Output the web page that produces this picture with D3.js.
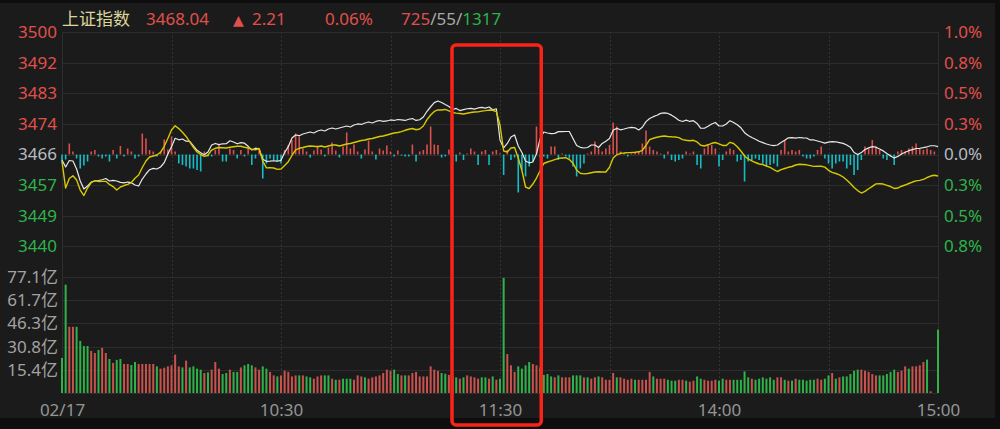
<!DOCTYPE html>
<html>
<head>
<meta charset="utf-8">
<script src="https://cdn.jsdelivr.net/npm/d3@7"></script>
<style>
html, body { margin: 0; padding: 0; background: #0e0e0e; }
svg { display: block; font-family: "Noto Sans", "Noto Sans CJK SC", sans-serif; }
</style>
</head>
<body>
<svg id="chart" width="1000" height="429"></svg>
<script>
// header
let indexName = '上证指数';
let lastPrice = 3468.04;
let change = 2.21;
let changePct = 0.06;
let upDownCount = [725, 55, 1317];

let prevClose = 3465.83;

// axis ticks
let pctTicks = [1.0, 0.75, 0.5, 0.25, 0, -0.25, -0.5, -0.75];
let priceLabels = ['3500', '3492', '3483', '3474', '3466', '3457', '3449', '3440'];
let pctLabels = ['1.0%', '0.8%', '0.5%', '0.3%', '0.0%', '0.3%', '0.5%', '0.8%'];
let volTicks = [77.1, 61.7, 46.3, 30.8, 15.4];
let volLabels = ['77.1亿', '61.7亿', '46.3亿', '30.8亿', '15.4亿'];
let timeTickIdx = [0, 60, 120, 180, 240];
let timeTickLabels = ['02/17', '10:30', '11:30', '14:00', '15:00'];
let timeGridIdx = [30, 60, 90, 120, 150, 180, 210];

// highlighted minutes (red box)
let highlightRange = [106.85, 131.3];

// minute price (white)
let price = [
3464.27, 3462.29, 3464.13, 3463.99, 3461.72, 3458.33, 3456.06, 3456.91, 3458.04, 3458.33,
3458.47, 3458.69, 3459.03, 3458.33, 3458.52, 3458.33, 3457.96, 3457.82, 3458.04, 3457.87,
3457.19, 3456.91, 3458.89, 3460.31, 3461.53, 3461.92, 3461.72, 3462.29, 3463.51, 3465.97,
3468.04, 3470.42, 3469.99, 3470.22, 3469.60, 3469.57, 3468.29, 3467.02, 3466.31, 3465.77,
3466.54, 3468.52, 3468.95, 3468.61, 3468.86, 3468.89, 3469.71, 3469.37, 3468.86, 3469.20,
3469.03, 3468.15, 3467.10, 3467.61, 3467.42, 3464.47, 3463.90, 3463.93, 3464.07, 3463.93,
3464.19, 3466.40, 3468.04, 3470.50, 3471.35, 3471.15, 3471.64, 3471.92, 3472.20, 3471.92,
3472.49, 3472.77, 3472.49, 3473.05, 3473.33, 3473.05, 3473.33, 3473.62, 3473.90, 3473.62,
3474.18, 3474.47, 3474.33, 3474.75, 3475.03, 3474.75, 3475.18, 3475.46, 3475.18, 3475.32,
3475.60, 3475.46, 3475.74, 3475.60, 3475.46, 3475.80, 3476.00, 3475.46, 3475.66, 3476.45,
3478.06, 3479.34, 3480.50, 3480.98, 3480.53, 3479.96, 3479.42, 3478.57, 3478.86, 3478.26,
3478.52, 3478.77, 3478.86, 3478.66, 3479.00, 3479.14, 3478.94, 3479.28, 3478.49, 3478.77,
3469.94, 3467.67, 3468.95, 3470.79, 3471.35, 3468.24, 3466.40, 3463.99, 3463.48, 3463.71,
3466.03, 3470.36, 3472.20, 3471.92, 3471.72, 3471.81, 3472.29, 3472.29, 3472.34, 3472.34,
3470.36, 3468.38, 3467.87, 3467.67, 3467.81, 3468.52, 3468.52, 3467.81, 3468.95, 3469.57,
3470.33, 3472.71, 3473.22, 3472.82, 3473.05, 3473.33, 3473.48, 3473.39, 3472.77, 3473.53,
3475.12, 3476.03, 3476.53, 3476.93, 3477.47, 3477.61, 3477.44, 3476.96, 3476.31, 3475.52,
3475.18, 3475.54, 3475.18, 3475.40, 3474.61, 3473.25, 3473.25, 3473.82, 3474.47, 3474.89,
3473.90, 3473.90, 3474.47, 3475.40, 3474.89, 3474.24, 3473.39, 3472.00, 3471.21, 3470.62,
3470.16, 3469.57, 3469.20, 3468.80, 3468.52, 3468.32, 3468.52, 3469.23, 3469.85, 3470.56,
3470.59, 3470.45, 3470.64, 3470.53, 3470.50, 3469.94, 3469.94, 3469.65, 3469.37, 3469.03,
3469.31, 3469.45, 3469.43, 3469.20, 3468.97, 3468.52, 3467.90, 3466.40, 3465.80, 3466.37,
3467.25, 3467.70, 3468.04, 3467.90, 3467.39, 3466.85, 3466.11, 3465.41, 3464.84, 3465.29,
3465.97, 3466.45, 3466.91, 3467.22, 3467.53, 3467.59, 3467.78, 3468.01, 3468.30, 3468.30,
3468.04
];

// unweighted index (yellow)
let leadLine = [
3463.79, 3456.34, 3459.03, 3459.83, 3458.61, 3455.78, 3454.22, 3456.34, 3457.87, 3458.41,
3458.21, 3458.24, 3458.24, 3457.36, 3456.77, 3455.78, 3456.63, 3457.05, 3457.39, 3457.90,
3459.09, 3460.02, 3462.15, 3463.99, 3465.12, 3465.41, 3465.69, 3466.45, 3468.15, 3470.36,
3472.77, 3473.96, 3473.16, 3472.12, 3470.93, 3469.37, 3467.87, 3466.54, 3465.83, 3465.32,
3465.63, 3467.10, 3467.59, 3467.81, 3467.73, 3467.67, 3467.87, 3468.04, 3468.18, 3468.15,
3467.87, 3467.67, 3467.30, 3467.16, 3467.53, 3463.99, 3462.06, 3462.12, 3462.01, 3461.61,
3461.72, 3462.71, 3463.79, 3465.55, 3467.16, 3467.59, 3467.81, 3468.10, 3468.24, 3468.15,
3468.04, 3468.24, 3467.95, 3468.24, 3468.52, 3468.52, 3468.24, 3468.52, 3468.80, 3468.95,
3469.23, 3469.51, 3469.79, 3469.94, 3470.22, 3470.36, 3470.64, 3470.93, 3471.07, 3471.35,
3471.64, 3471.92, 3472.06, 3472.29, 3472.68, 3472.97, 3473.19, 3472.83, 3473.05, 3473.90,
3475.71, 3477.02, 3478.01, 3478.43, 3478.43, 3478.57, 3478.15, 3477.72, 3477.53, 3477.44,
3477.30, 3477.50, 3477.70, 3477.87, 3477.89, 3478.09, 3478.23, 3478.40, 3478.35, 3477.95,
3474.18, 3466.82, 3466.54, 3467.67, 3467.81, 3464.84, 3461.30, 3456.63, 3456.20, 3457.48,
3459.17, 3461.30, 3463.28, 3463.71, 3464.05, 3464.39, 3464.75, 3464.84, 3464.92, 3464.41,
3463.34, 3461.44, 3460.51, 3460.36, 3460.45, 3460.65, 3460.87, 3460.96, 3460.87, 3460.87,
3462.21, 3464.84, 3465.75, 3466.17, 3466.25, 3466.37, 3466.40, 3466.48, 3466.59, 3467.02,
3468.38, 3470.02, 3470.42, 3470.70, 3470.93, 3471.07, 3470.93, 3470.84, 3470.79, 3470.62,
3470.05, 3469.85, 3469.74, 3469.85, 3469.37, 3468.46, 3468.24, 3468.58, 3469.00, 3469.23,
3468.86, 3468.38, 3468.38, 3469.28, 3468.95, 3468.04, 3466.82, 3465.41, 3464.56, 3464.05,
3463.56, 3463.14, 3463.00, 3462.57, 3462.21, 3461.58, 3461.02, 3461.53, 3461.87, 3462.21,
3462.43, 3462.86, 3463.08, 3463.00, 3462.91, 3462.69, 3462.46, 3462.49, 3462.49, 3462.26,
3461.36, 3460.76, 3460.45, 3460.08, 3459.46, 3458.61, 3457.62, 3456.48, 3455.63, 3454.93,
3455.41, 3456.14, 3456.80, 3457.53, 3457.56, 3457.47, 3457.11, 3456.77, 3456.23, 3456.34,
3456.85, 3457.19, 3457.62, 3458.04, 3458.38, 3458.52, 3458.81, 3459.32, 3459.74, 3459.97,
3459.74
];

// red / cyan strength bars around the previous close line
let flow = [
-8, -5, 11, 3, -4, -14, -11, -7, 3, 4.5,
-2, -4, -2, -7, 4.5, -4, 8.5, -2, 6, 3,
-4, -2, 21, 16, 4.5, 3, -2, 3, 15, 5,
18, 3, -9, -10.5, -12, -14, -14, -15.5, -17, 3,
-2, -2, 4.5, 9.5, -7, -7, 6, 4.5, -4, 4.5,
-2, 6, -10.5, -4, 4.5, -24, -9, -4, -5.5, -7,
-9, 4.5, 9.5, 14.5, 21, 18, 6, 3, -3, 4,
9, 5, -2, 7, 12, 4, -3, 8, 22, 6,
10, 3, -4, 5, 14, 3, -5, 6, 4, 9,
3, -2, 4, -1, -2, -2, 10, -7, 3, 4.5,
10, 28, 10, 9.5, -3, -2, 5, -2, -7, 2,
-5.5, 1, 6, 3, -10.5, 3, 4.5, -10.5, 3, 4.5,
1, -20.5, 4.5, -5.5, -3, -38, -15.5, -22, -12, -7,
28, -3, -2, -4, 8, 8, -5.5, 1, -2, -4,
-12, -22, -14, -9, 1, 3, 13, 6, 3, 6,
9.5, 32, 28, 3, 1.5, -2, 1, 2, 3, 11,
24, 8, 4.5, 3, 1, -4, 3, -5.5, -7, -5.5,
-4, 3, 1, 3, -10.5, -14, 6, 9.5, 9.5, 6,
-12, -5.5, 3, 6, 4.5, -7, -5.5, -27, -7, -5.5,
-4, -5.5, -9, -12, -10.5, -9, -12, 4.5, 14.5, 3,
4.5, 3, 4.5, -2, -4, -4, -2, 4.5, 8, -4,
-9, -14, -9, -7, -7, -14, -10.5, -20.5, -15.5, -5.5,
8, 6, 14.5, 8, 4.5, -4, -5.5, -2, -10.5, 3,
4.5, 3, 6, 8, 11, 6, 4.5, 6, 4.5, 3,
0
];

// volume per minute, 亿
let volume = [
23.3, 72, 44, 44, 44, 34.6, 31.2, 31.2, 28, 26.6,
28.6, 30, 26.6, 22.6, 20, 22, 22.6, 19.3, 19.3, 18.6,
20.6, 19.3, 19.3, 19.3, 19.3, 19.3, 17.7, 16.2, 16.8, 17.7,
18.4, 25.5, 17.7, 17, 21.5, 17, 17.7, 16.2, 15.5, 13.3,
13.7, 15.5, 20.6, 16.2, 12.6, 13.3, 15.5, 14, 14, 17,
18.4, 19.3, 18.4, 17, 15.5, 17.7, 16.2, 14, 11.7, 11,
11.7, 14.8, 14, 11, 11.7, 11.7, 11.7, 11, 10.4, 9.5,
11, 11.7, 11.7, 11.7, 9.5, 8.8, 8.8, 9.5, 9.5, 9.5,
8.8, 11.7, 11, 10.4, 9.5, 10.4, 11, 11.7, 13.3, 15.5,
14.8, 15.5, 12.6, 11.7, 11.7, 11.7, 13.3, 14, 11, 11,
11, 17.7, 15.5, 14.8, 13.3, 12.8, 12, 11, 10.4, 9.5,
10.4, 11.7, 11, 10.4, 9.5, 10.4, 10.4, 9.5, 11, 8.8,
9.5, 76.5, 25.9, 18.4, 14, 17.7, 16.2, 18.4, 20.6, 19.3,
18.4, 17, 12, 12.6, 11, 10.4, 11.7, 10.4, 10.4, 10.4,
11.7, 11.7, 11.7, 10.4, 10.4, 9.5, 10.4, 11, 10.4, 8.8,
8.8, 13.3, 10.4, 10.4, 9.5, 8.8, 9.5, 8.8, 8.8, 8.8,
8.8, 14, 11, 9.5, 9.5, 9.5, 8.8, 8.2, 8.2, 8.8,
8.8, 8.2, 7.5, 8.2, 11, 9.5, 8.8, 8.2, 8.2, 8.8,
8.2, 9.5, 8.8, 8.8, 8.8, 8.8, 8.8, 14.4, 10.4, 9.5,
8.8, 9.5, 10.4, 9.5, 10.4, 8.8, 10.4, 10.4, 8.8, 8.2,
8.2, 9.5, 8.8, 8.8, 8.2, 8.8, 8.8, 9.5, 8.8, 9.5,
11.7, 13.3, 9.5, 10.4, 11, 11, 12.6, 14.8, 15.5, 15.5,
14.8, 14, 12.6, 11.7, 11.7, 11.7, 12.6, 14, 15.5, 14,
14.8, 17.7, 16.2, 17.7, 17.7, 18.4, 20.6, 22.2, 1.1, 0,
42.1
];

// R = up minute, G = down minute
let volumeDir = (
'GGRRGGGGRR' + 'GRRGRGGRRG' + 'GRRRRRGRRR' + 'RRRGRGGGGR' + 'GRRRGGRGGR' + 'GGGRRGGRRG' + 'R' +
'RRRRGRGGRR' + 'RGGRGRGGGR' + 'RRGRRRRRRR' + 'GGRGRRRRRR' + 'RRRGGRGGRG' + 'RRRRGGRGR' +
'GGRRRGGGGRR' +
'GGGGRGRRRG' + 'GGRGRRGRRR' + 'RGRRRRGRRR' + 'RGRRRGGGRR' + 'GRRGGRRRRG' +
'GRRGGGGGRG' + 'GGGGGRRGRG' + 'RGGGGGRRGG' + 'RGRGGGGGRR' + 'RRRGGGGGRR' + 'RGRRRRGRGG'
).split('');

let colorRed = '#e0504b';
let colorGreen = '#2db34b';
let colorGray = '#b6bcc2';

let svg = d3.select('#chart');

let left = 62;
let right = 938;
let priceTop = 32;
let priceBottom = 277;
let volBottom = 393;

svg.append('rect')
	.attr('x', 0).attr('y', 3)
	.attr('width', 995).attr('height', 415)
	.attr('fill', '#1b1b1b');

let x = d3.scaleLinear()
	.domain([0, 240])
	.range([left, right]);

let yPrice = d3.scaleLinear()
	.domain([prevClose * 0.99, prevClose * 1.01])
	.range([priceBottom, priceTop]);

let yVol = d3.scaleLinear()
	.domain([0, 77.1])
	.range([volBottom, priceBottom]);

let base = yPrice(prevClose);
let yFlow = d3.scaleLinear()
	.domain([-40, 40])
	.range([base + 40, base - 40]);

let priceTickValues = pctTicks.map(p => prevClose * (1 + p / 100));

// grid
let grid = svg.append('g');
grid.selectAll('.hp')
	.data(priceTickValues)
	.enter()
	.append('line')
	.attr('x1', left).attr('x2', right)
	.attr('y1', d => Math.round(yPrice(d)) + 0.5)
	.attr('y2', d => Math.round(yPrice(d)) + 0.5)
	.attr('stroke', '#2c2c2c');

grid.selectAll('.hv')
	.data(volTicks)
	.enter()
	.append('line')
	.attr('x1', left).attr('x2', right)
	.attr('y1', d => Math.round(yVol(d)) + 0.5)
	.attr('y2', d => Math.round(yVol(d)) + 0.5)
	.attr('stroke', '#2c2c2c');

grid.selectAll('.vt')
	.data(timeGridIdx)
	.enter()
	.append('line')
	.attr('x1', d => Math.round(x(d)) + 0.5)
	.attr('x2', d => Math.round(x(d)) + 0.5)
	.attr('y1', priceTop).attr('y2', volBottom)
	.attr('stroke', '#333333')
	.attr('stroke-dasharray', '2,2');

grid.selectAll('.edge')
	.data([0, 240])
	.enter()
	.append('line')
	.attr('x1', d => Math.round(x(d)) + 0.5)
	.attr('x2', d => Math.round(x(d)) + 0.5)
	.attr('y1', priceTop).attr('y2', volBottom)
	.attr('stroke', '#2e2e2e');

grid.append('line')
	.attr('x1', left).attr('x2', right)
	.attr('y1', volBottom + 0.5).attr('y2', volBottom + 0.5)
	.attr('stroke', '#2c2c2c');

// strength bars
svg.append('g')
	.selectAll('rect')
	.data(flow)
	.enter()
	.append('rect')
	.attr('x', (d, i) => x(i) - 0.8)
	.attr('width', 1.6)
	.attr('y', d => Math.min(yFlow(d), yFlow(0)))
	.attr('height', d => Math.abs(yFlow(d) - yFlow(0)))
	.attr('fill', d => d >= 0 ? '#d9504c' : '#14bcc6');

// volume bars
svg.append('g')
	.selectAll('rect')
	.data(volume)
	.enter()
	.append('rect')
	.attr('x', (d, i) => x(i) - 1)
	.attr('width', 2)
	.attr('y', d => yVol(d))
	.attr('height', d => volBottom - yVol(d))
	.attr('fill', (d, i) => volumeDir[i] === 'R' ? '#c8524e' : '#2fb24a');

// lines
let priceLine = d3.line()
	.x((d, i) => x(i))
	.y(d => yPrice(d));

svg.append('path')
	.datum(price)
	.attr('fill', 'none')
	.attr('stroke', '#e8e8e8')
	.attr('stroke-width', 1.2)
	.attr('stroke-linejoin', 'round')
	.attr('d', priceLine);

svg.append('path')
	.datum(leadLine)
	.attr('fill', 'none')
	.attr('stroke', '#d6c900')
	.attr('stroke-width', 1.4)
	.attr('stroke-linejoin', 'round')
	.attr('d', priceLine);

// axes
let fontSize = '17px';

let leftAxis = d3.axisLeft(yPrice)
	.tickValues(priceTickValues)
	.tickFormat((d, i) => priceLabels[i])
	.tickSize(0)
	.tickPadding(5);

let gLeft = svg.append('g')
	.attr('transform', 'translate(' + left + ',0)')
	.call(leftAxis);

let rightAxis = d3.axisRight(yPrice)
	.tickValues(priceTickValues)
	.tickFormat((d, i) => pctLabels[i])
	.tickSize(0)
	.tickPadding(6);

let gRight = svg.append('g')
	.attr('transform', 'translate(' + right + ',0)')
	.call(rightAxis);

[gLeft, gRight].forEach(function(g) {
	g.select('.domain').remove();
	g.selectAll('text')
		.style('font-size', fontSize)
		.style('font-family', '"Noto Sans", "Noto Sans CJK SC", sans-serif')
		.attr('fill', (d, i) => pctTicks[i] > 0 ? colorRed : (pctTicks[i] < 0 ? colorGreen : colorGray));
});

let volAxis = d3.axisLeft(yVol)
	.tickValues(volTicks)
	.tickFormat((d, i) => volLabels[i])
	.tickSize(0)
	.tickPadding(4);

let gVol = svg.append('g')
	.attr('transform', 'translate(' + left + ',0)')
	.call(volAxis);
gVol.select('.domain').remove();
gVol.selectAll('text')
	.style('font-size', fontSize)
	.style('font-family', '"Noto Sans", "Noto Sans CJK SC", sans-serif')
	.attr('fill', '#a2a2a2');

let timeAxis = d3.axisBottom(x)
	.tickValues(timeTickIdx)
	.tickFormat((d, i) => timeTickLabels[i])
	.tickSize(0)
	.tickPadding(11);

let gTime = svg.append('g')
	.attr('transform', 'translate(0,' + volBottom + ')')
	.call(timeAxis);
gTime.select('.domain').remove();
gTime.selectAll('text')
	.style('font-size', fontSize)
	.style('font-family', '"Noto Sans", "Noto Sans CJK SC", sans-serif')
	.attr('fill', '#959595');

// header
let header = svg.append('g')
	.style('font-size', fontSize);

header.append('text')
	.attr('x', 62).attr('y', 25)
	.attr('fill', '#dcd59c')
	.text(indexName);

header.append('text')
	.attr('x', 146).attr('y', 25)
	.attr('fill', colorRed)
	.text(lastPrice.toFixed(2));

header.append('text')
	.attr('x', 233).attr('y', 25)
	.attr('fill', colorRed)
	.style('font-family', '"DejaVu Sans", sans-serif')
	.style('font-size', '14px')
	.text('▲');

header.append('text')
	.attr('x', 252).attr('y', 25)
	.attr('fill', colorRed)
	.text(change.toFixed(2));

header.append('text')
	.attr('x', 325).attr('y', 25)
	.attr('fill', colorRed)
	.text(changePct.toFixed(2) + '%');

let counts = header.append('text')
	.attr('x', 401).attr('y', 25);
counts.append('tspan').attr('fill', colorRed).text(upDownCount[0]);
counts.append('tspan').attr('fill', '#a8a8a8').text('/' + upDownCount[1] + '/');
counts.append('tspan').attr('fill', colorGreen).text(upDownCount[2]);

// red highlight box
svg.append('rect')
	.attr('x', x(highlightRange[0]))
	.attr('y', priceTop + 13)
	.attr('width', x(highlightRange[1]) - x(highlightRange[0]))
	.attr('height', 425 - priceTop - 13)
	.attr('rx', 4)
	.attr('fill', 'none')
	.attr('stroke', '#fa2318')
	.attr('stroke-width', 3.5);
</script>
</body>
</html>
